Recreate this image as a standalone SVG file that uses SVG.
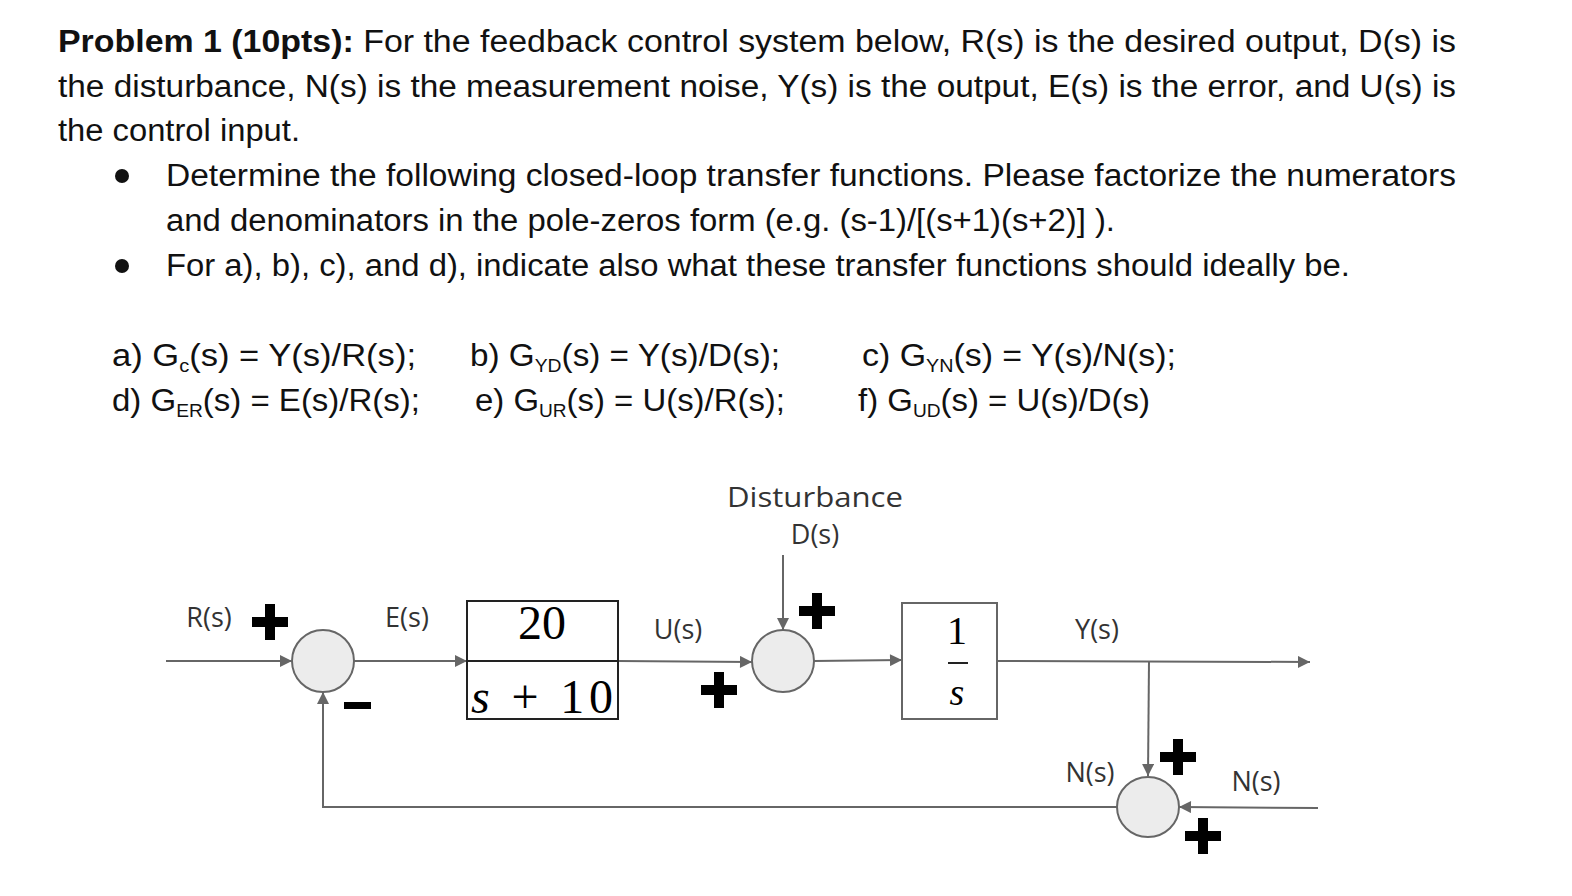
<svg xmlns="http://www.w3.org/2000/svg" width="1572" height="896" viewBox="0 0 1572 896">
<style>
.t{font-family:"Liberation Sans",Arial,sans-serif;font-size:31px;fill:#111}
.b{font-weight:bold}
.lbl{font-family:"Open Sans","Noto Sans",sans-serif;font-size:27px;fill:#333}
.m{font-family:"Liberation Serif","Times New Roman",serif;fill:#000}
.ln{stroke:#666;stroke-width:2;fill:none}
.sum{fill:#ececec;stroke:#666;stroke-width:2}
.box{fill:#fff;stroke:#222;stroke-width:2}
.pl{fill:#000}
</style>
<defs>
<marker id="ar" viewBox="0 0 10 10" refX="10" refY="5" markerWidth="15" markerHeight="12" markerUnits="userSpaceOnUse" orient="auto"><path d="M0,0L10,5L0,10z" fill="#666"/></marker>
<g id="plus"><rect x="-5" y="-18" width="10" height="36"/><rect x="-18" y="-5" width="36" height="10"/></g>
</defs>
<rect width="1572" height="896" fill="#fff"/>
<g id="text">
<text class="t" x="58" y="52" textLength="1398" lengthAdjust="spacingAndGlyphs"><tspan class="b">Problem 1 (10pts):</tspan> For the feedback control system below, R(s) is the desired output, D(s) is</text>
<text class="t" x="58" y="97" textLength="1398" lengthAdjust="spacingAndGlyphs">the disturbance, N(s) is the measurement noise, Y(s) is the output, E(s) is the error, and U(s) is</text>
<text class="t" x="58" y="141" textLength="242" lengthAdjust="spacingAndGlyphs">the control input.</text>
<circle cx="122" cy="176" r="7" fill="#111"/>
<text class="t" x="166" y="186" textLength="1290" lengthAdjust="spacingAndGlyphs">Determine the following closed-loop transfer functions. Please factorize the numerators</text>
<text class="t" x="166" y="231" textLength="949" lengthAdjust="spacingAndGlyphs">and denominators in the pole-zeros form (e.g. (s-1)/[(s+1)(s+2)] ).</text>
<circle cx="122" cy="266" r="7" fill="#111"/>
<text class="t" x="166" y="276" textLength="1184" lengthAdjust="spacingAndGlyphs">For a), b), c), and d), indicate also what these transfer functions should ideally be.</text>
<text class="t" x="112" y="366" textLength="304" lengthAdjust="spacingAndGlyphs">a)  G<tspan font-size="18" dy="6">c</tspan><tspan dy="-6">(s) = Y(s)/R(s);</tspan></text>
<text class="t" x="470" y="366" textLength="310" lengthAdjust="spacingAndGlyphs">b) G<tspan font-size="18" dy="6">YD</tspan><tspan dy="-6">(s) = Y(s)/D(s);</tspan></text>
<text class="t" x="862" y="366" textLength="314" lengthAdjust="spacingAndGlyphs">c)  G<tspan font-size="18" dy="6">YN</tspan><tspan dy="-6">(s) = Y(s)/N(s);</tspan></text>
<text class="t" x="112" y="411" textLength="308" lengthAdjust="spacingAndGlyphs">d) G<tspan font-size="18" dy="6">ER</tspan><tspan dy="-6">(s) = E(s)/R(s);</tspan></text>
<text class="t" x="475" y="411" textLength="310" lengthAdjust="spacingAndGlyphs">e) G<tspan font-size="18" dy="6">UR</tspan><tspan dy="-6">(s) = U(s)/R(s);</tspan></text>
<text class="t" x="858" y="411" textLength="292" lengthAdjust="spacingAndGlyphs">f) G<tspan font-size="18" dy="6">UD</tspan><tspan dy="-6">(s) = U(s)/D(s)</tspan></text>
</g>
<g id="connectors">
<line class="ln" x1="166" y1="661" x2="292" y2="661" marker-end="url(#ar)"/>
<line class="ln" x1="354" y1="661" x2="467" y2="661" marker-end="url(#ar)"/>
<line class="ln" x1="618" y1="661" x2="752" y2="662" marker-end="url(#ar)"/>
<line class="ln" x1="814" y1="661" x2="902" y2="660" marker-end="url(#ar)"/>
<line class="ln" x1="997" y1="661" x2="1310" y2="662" marker-end="url(#ar)"/>
<line class="ln" x1="783" y1="555" x2="783" y2="630" marker-end="url(#ar)"/>
<line class="ln" x1="1149" y1="661" x2="1148" y2="776" marker-end="url(#ar)"/>
<line class="ln" x1="1318" y1="808" x2="1179" y2="807" marker-end="url(#ar)"/>
<polyline class="ln" points="1117,807 323,807 323,692" marker-end="url(#ar)"/>
</g>
<g id="sum1"><ellipse class="sum" cx="323" cy="661" rx="31" ry="31"/></g>
<g id="sum2"><ellipse class="sum" cx="783" cy="661" rx="31" ry="31"/></g>
<g id="sum3"><ellipse class="sum" cx="1148" cy="807" rx="31" ry="30"/></g>
<g id="block1">
<rect class="box" x="467" y="601" width="151" height="118"/>
<line x1="468" y1="661" x2="617" y2="661" stroke="#222" stroke-width="2"/>
<text class="m" x="542" y="639" font-size="48" text-anchor="middle">20</text>
<text class="m" x="542" y="713" font-size="48" text-anchor="middle" textLength="142" lengthAdjust="spacing"><tspan font-style="italic">s</tspan> + 10</text>
</g>
<g id="block2">
<rect x="902" y="603" width="95" height="116" fill="#fff" stroke="#666" stroke-width="2"/>
<text class="m" x="957" y="644" font-size="40" text-anchor="middle">1</text>
<line x1="948" y1="663" x2="968" y2="663" stroke="#222" stroke-width="2"/>
<text class="m" x="957" y="705" font-size="38" font-style="italic" text-anchor="middle">s</text>
</g>
<g id="labels">
<text class="lbl" x="209" y="627" text-anchor="middle">R(s)</text>
<text class="lbl" x="407" y="627" text-anchor="middle">E(s)</text>
<text class="lbl" x="678" y="639" text-anchor="middle">U(s)</text>
<text class="lbl" x="815" y="507" text-anchor="middle" textLength="176" lengthAdjust="spacingAndGlyphs">Disturbance</text>
<text class="lbl" x="815" y="544" text-anchor="middle">D(s)</text>
<text class="lbl" x="1097" y="639" text-anchor="middle">Y(s)</text>
<text class="lbl" x="1090" y="782" text-anchor="middle">N(s)</text>
<text class="lbl" x="1256" y="791" text-anchor="middle">N(s)</text>
</g>
<g id="signs" class="pl">
<use href="#plus" x="270" y="622"/>
<use href="#plus" x="719" y="690"/>
<use href="#plus" x="817" y="611"/>
<use href="#plus" x="1178" y="757"/>
<use href="#plus" x="1203" y="836"/>
<rect x="344" y="702" width="27" height="7"/>
</g>
</svg>
